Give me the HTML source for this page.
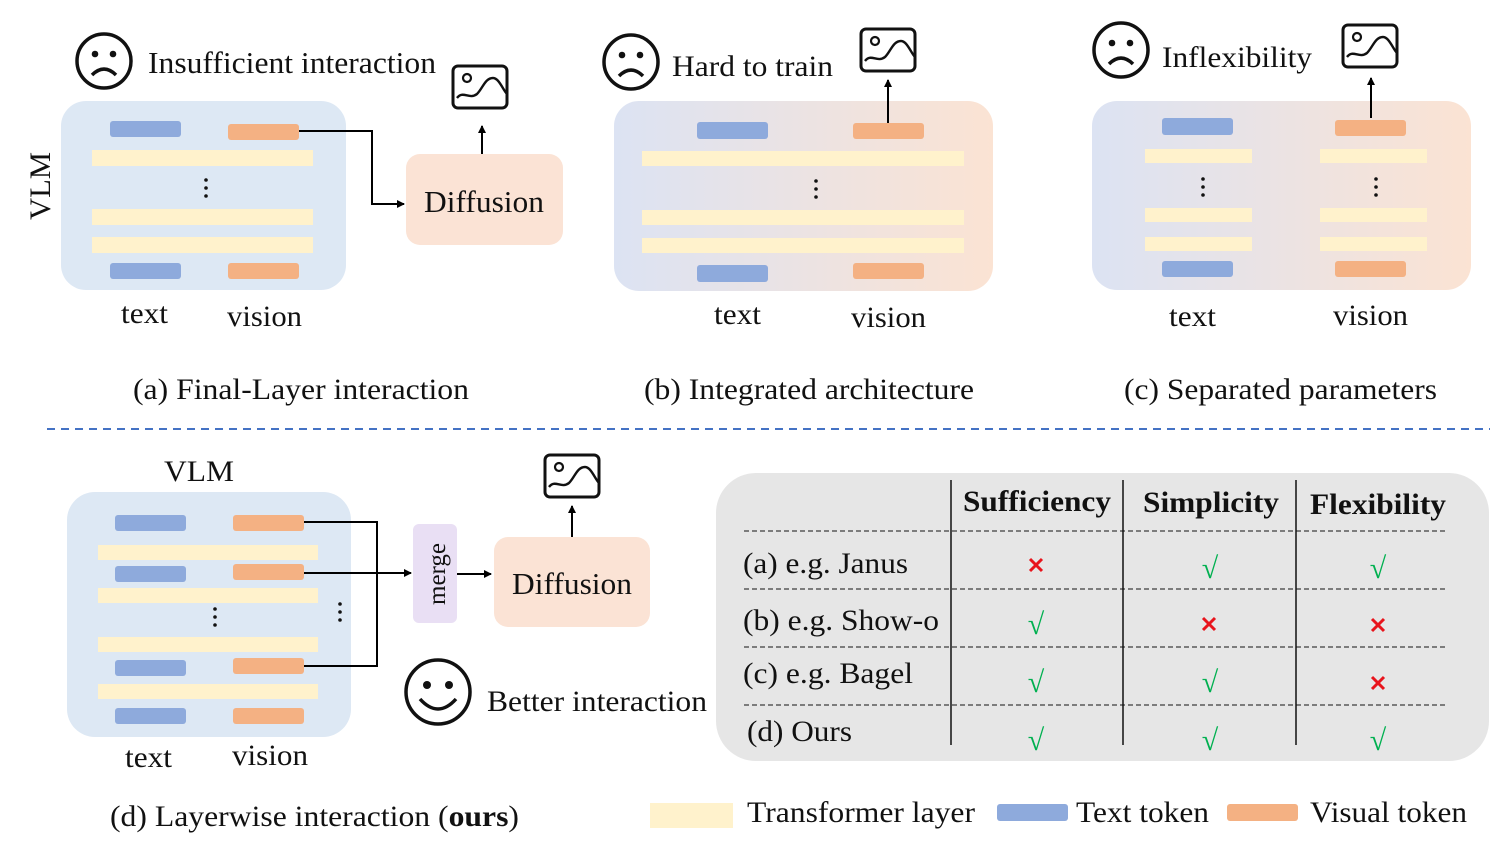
<!DOCTYPE html>
<html><head><meta charset="utf-8"><style>
html,body{margin:0;padding:0;background:#fff;}
svg{display:block;}
text{font-family:"Liberation Serif",serif;}
</style></head><body>
<svg width="1507" height="863" viewBox="0 0 1507 863" xmlns="http://www.w3.org/2000/svg" fill="#111">
<defs>
<linearGradient id="g1" x1="0" x2="1" y1="0" y2="0"><stop offset="0" stop-color="#dce3f3"/><stop offset="1" stop-color="#fbe3d3"/></linearGradient>
<marker id="ar" markerWidth="8" markerHeight="8" refX="7" refY="4" orient="auto" markerUnits="userSpaceOnUse"><path d="M0,0 L8,4 L0,8 z" fill="#000"/></marker>
<g id="img"><rect x="2" y="2" width="54" height="42" rx="5" fill="none" stroke="#111" stroke-width="3"/><circle cx="16" cy="14" r="4" fill="none" stroke="#111" stroke-width="2.2"/><path d="M6,34 C12,26 18,36 26,30 C32,24 34,14 42,14 C48,14 52,26 56,30" fill="none" stroke="#111" stroke-width="2.4"/></g>
<g id="sad"><circle cx="0" cy="0" r="27" fill="none" stroke="#111" stroke-width="3.5"/><circle cx="-9" cy="-7" r="3.3" fill="#111"/><circle cx="9" cy="-7" r="3.3" fill="#111"/><path d="M-12,14 Q0,2 12,14" fill="none" stroke="#111" stroke-width="3.5"/></g>
</defs>

<!-- Panel a -->
<use href="#sad" x="104" y="61"/>
<text x="148" y="73" font-size="31" textLength="288" lengthAdjust="spacingAndGlyphs">Insufficient interaction</text>
<text transform="translate(50,220) rotate(-90)" font-size="30" textLength="68" lengthAdjust="spacingAndGlyphs">VLM</text>
<rect x="61" y="101" width="285" height="189" rx="25" fill="#dde8f4"/>
<rect x="110" y="121" width="71" height="16" rx="3" fill="#8eaadc"/>
<rect x="228" y="124" width="71" height="16" rx="3" fill="#f4b183"/>
<rect x="92" y="150" width="221" height="16" fill="#fff2cc"/>
<rect x="92" y="209" width="221" height="16" fill="#fff2cc"/>
<rect x="92" y="237" width="221" height="16" fill="#fff2cc"/>
<circle cx="206" cy="180" r="1.8"/><circle cx="206" cy="188" r="1.8"/><circle cx="206" cy="196" r="1.8"/>
<rect x="110" y="263" width="71" height="16" rx="3" fill="#8eaadc"/>
<rect x="228" y="263" width="71" height="16" rx="3" fill="#f4b183"/>
<polyline points="299,131 372,131 372,204 404,204" fill="none" stroke="#000" stroke-width="2" marker-end="url(#ar)"/>
<rect x="406" y="154" width="157" height="91" rx="14" fill="#fbe3d5"/>
<text x="424" y="212" font-size="31" textLength="120" lengthAdjust="spacingAndGlyphs">Diffusion</text>
<line x1="482" y1="154" x2="482" y2="126" stroke="#000" stroke-width="2" marker-end="url(#ar)"/>
<use href="#img" x="451" y="64"/>
<text x="121" y="323" font-size="30" textLength="47" lengthAdjust="spacingAndGlyphs">text</text>
<text x="227" y="326" font-size="30" textLength="75" lengthAdjust="spacingAndGlyphs">vision</text>
<text x="133" y="399" font-size="30" textLength="336" lengthAdjust="spacingAndGlyphs">(a) Final-Layer interaction</text>

<!-- Panel b -->
<use href="#sad" x="631" y="62"/>
<text x="672" y="76" font-size="30" textLength="161" lengthAdjust="spacingAndGlyphs">Hard to train</text>
<rect x="614" y="101" width="379" height="190" rx="25" fill="url(#g1)"/>
<rect x="697" y="122" width="71" height="17" rx="3" fill="#8eaadc"/>
<rect x="853" y="123" width="71" height="16" rx="3" fill="#f4b183"/>
<rect x="642" y="151" width="322" height="15" fill="#fff2cc"/>
<rect x="642" y="210" width="322" height="15" fill="#fff2cc"/>
<rect x="642" y="238" width="322" height="15" fill="#fff2cc"/>
<circle cx="816" cy="181" r="1.8"/><circle cx="816" cy="189" r="1.8"/><circle cx="816" cy="197" r="1.8"/>
<rect x="697" y="265" width="71" height="17" rx="3" fill="#8eaadc"/>
<rect x="853" y="263" width="71" height="16" rx="3" fill="#f4b183"/>
<line x1="888" y1="123" x2="888" y2="80" stroke="#000" stroke-width="2" marker-end="url(#ar)"/>
<use href="#img" x="859" y="27"/>
<text x="714" y="324" font-size="30" textLength="47" lengthAdjust="spacingAndGlyphs">text</text>
<text x="851" y="327" font-size="30" textLength="75" lengthAdjust="spacingAndGlyphs">vision</text>
<text x="644" y="399" font-size="30" textLength="330" lengthAdjust="spacingAndGlyphs">(b) Integrated architecture</text>

<!-- Panel c -->
<use href="#sad" x="1121" y="50"/>
<text x="1162" y="67" font-size="30" textLength="150" lengthAdjust="spacingAndGlyphs">Inflexibility</text>
<rect x="1092" y="101" width="379" height="189" rx="25" fill="url(#g1)"/>
<rect x="1162" y="118" width="71" height="17" rx="3" fill="#8eaadc"/>
<rect x="1145" y="149" width="107" height="14" fill="#fff2cc"/>
<rect x="1145" y="208" width="107" height="14" fill="#fff2cc"/>
<rect x="1145" y="237" width="107" height="14" fill="#fff2cc"/>
<rect x="1162" y="261" width="71" height="16" rx="3" fill="#8eaadc"/>
<circle cx="1203" cy="179" r="1.8"/><circle cx="1203" cy="187" r="1.8"/><circle cx="1203" cy="195" r="1.8"/>
<rect x="1335" y="120" width="71" height="16" rx="3" fill="#f4b183"/>
<rect x="1320" y="149" width="107" height="14" fill="#fff2cc"/>
<rect x="1320" y="208" width="107" height="14" fill="#fff2cc"/>
<rect x="1320" y="237" width="107" height="14" fill="#fff2cc"/>
<rect x="1335" y="261" width="71" height="16" rx="3" fill="#f4b183"/>
<circle cx="1376" cy="179" r="1.8"/><circle cx="1376" cy="187" r="1.8"/><circle cx="1376" cy="195" r="1.8"/>
<line x1="1371" y1="118" x2="1371" y2="78" stroke="#000" stroke-width="2" marker-end="url(#ar)"/>
<use href="#img" x="1341" y="23"/>
<text x="1169" y="326" font-size="30" textLength="47" lengthAdjust="spacingAndGlyphs">text</text>
<text x="1333" y="325" font-size="30" textLength="75" lengthAdjust="spacingAndGlyphs">vision</text>
<text x="1124" y="399" font-size="30" textLength="313" lengthAdjust="spacingAndGlyphs">(c) Separated parameters</text>

<line x1="47" y1="429" x2="1490" y2="429" stroke="#4472c4" stroke-width="2" stroke-dasharray="8,6"/>

<!-- Panel d -->
<text x="164" y="481" font-size="30" textLength="70" lengthAdjust="spacingAndGlyphs">VLM</text>
<rect x="67" y="492" width="284" height="245" rx="28" fill="#dde8f4"/>
<rect x="115" y="515" width="71" height="16" rx="3" fill="#8eaadc"/>
<rect x="233" y="515" width="71" height="16" rx="3" fill="#f4b183"/>
<rect x="98" y="545" width="220" height="15" fill="#fff2cc"/>
<rect x="115" y="566" width="71" height="16" rx="3" fill="#8eaadc"/>
<rect x="233" y="564" width="71" height="16" rx="3" fill="#f4b183"/>
<rect x="98" y="588" width="220" height="15" fill="#fff2cc"/>
<circle cx="215" cy="609" r="1.8"/><circle cx="215" cy="617" r="1.8"/><circle cx="215" cy="625" r="1.8"/>
<circle cx="340" cy="604" r="1.8"/><circle cx="340" cy="612" r="1.8"/><circle cx="340" cy="620" r="1.8"/>
<rect x="98" y="637" width="220" height="15" fill="#fff2cc"/>
<rect x="115" y="660" width="71" height="16" rx="3" fill="#8eaadc"/>
<rect x="233" y="658" width="71" height="16" rx="3" fill="#f4b183"/>
<rect x="98" y="684" width="220" height="15" fill="#fff2cc"/>
<rect x="115" y="708" width="71" height="16" rx="3" fill="#8eaadc"/>
<rect x="233" y="708" width="71" height="16" rx="3" fill="#f4b183"/>
<polyline points="304,522 377,522 377,666 304,666" fill="none" stroke="#000" stroke-width="2"/>
<line x1="304" y1="573" x2="411" y2="573" stroke="#000" stroke-width="2" marker-end="url(#ar)"/>
<rect x="413" y="524" width="44" height="99" rx="6" fill="#e9dff4"/>
<text transform="translate(445,574) rotate(-90)" font-size="25" text-anchor="middle">merge</text>
<line x1="457" y1="574" x2="491" y2="574" stroke="#000" stroke-width="2" marker-end="url(#ar)"/>
<rect x="494" y="537" width="156" height="90" rx="14" fill="#fbe3d5"/>
<text x="512" y="594" font-size="31" textLength="120" lengthAdjust="spacingAndGlyphs">Diffusion</text>
<line x1="572" y1="537" x2="572" y2="506" stroke="#000" stroke-width="2" marker-end="url(#ar)"/>
<use href="#img" x="543" y="453"/>
<circle cx="438" cy="692" r="32" fill="none" stroke="#111" stroke-width="3.5"/>
<circle cx="427" cy="685" r="4"/><circle cx="449" cy="685" r="4"/>
<path d="M420,699 Q438,719 456,699" fill="none" stroke="#111" stroke-width="3.5"/>
<text x="487" y="711" font-size="30" textLength="220" lengthAdjust="spacingAndGlyphs">Better interaction</text>
<text x="125" y="767" font-size="30" textLength="47" lengthAdjust="spacingAndGlyphs">text</text>
<text x="232" y="765" font-size="30" textLength="76" lengthAdjust="spacingAndGlyphs">vision</text>
<text x="110" y="826" font-size="30" textLength="409" lengthAdjust="spacingAndGlyphs">(d) Layerwise interaction (<tspan font-weight="bold">ours</tspan>)</text>

<!-- Table -->
<rect x="716" y="473" width="773" height="288" rx="40" fill="#e6e6e6"/>
<g stroke="#111" stroke-width="1.5">
<line x1="951" y1="480" x2="951" y2="745"/>
<line x1="1123" y1="480" x2="1123" y2="745"/>
<line x1="1296" y1="480" x2="1296" y2="745"/>
</g>
<g stroke="#111" stroke-width="1" stroke-dasharray="5,3">
<line x1="744" y1="531" x2="1448" y2="531"/>
<line x1="744" y1="589" x2="1448" y2="589"/>
<line x1="744" y1="647" x2="1448" y2="647"/>
<line x1="744" y1="705" x2="1448" y2="705"/>
</g>
<g font-size="30" font-weight="bold">
<text x="963" y="511" textLength="148" lengthAdjust="spacingAndGlyphs">Sufficiency</text>
<text x="1143" y="512" textLength="136" lengthAdjust="spacingAndGlyphs">Simplicity</text>
<text x="1310" y="514" textLength="136" lengthAdjust="spacingAndGlyphs">Flexibility</text>
</g>
<g font-size="30">
<text x="743" y="573" textLength="165" lengthAdjust="spacingAndGlyphs">(a) e.g. Janus</text>
<text x="743" y="630" textLength="196" lengthAdjust="spacingAndGlyphs">(b) e.g. Show-o</text>
<text x="743" y="683" textLength="170" lengthAdjust="spacingAndGlyphs">(c) e.g. Bagel</text>
<text x="747" y="741" textLength="105" lengthAdjust="spacingAndGlyphs">(d) Ours</text>
</g>
<g stroke="#e8141c" stroke-width="3">
<path d="M1030,559 L1042,571 M1042,559 L1030,571"/>
<path d="M1203,618 L1215,630 M1215,618 L1203,630"/>
<path d="M1372,619 L1384,631 M1384,619 L1372,631"/>
<path d="M1372,677 L1384,689 M1384,677 L1372,689"/>
</g>
<g font-size="30" text-anchor="middle" fill="#00b050">
<text x="1210" y="578">√</text>
<text x="1378" y="578">√</text>
<text x="1036" y="634">√</text>
<text x="1036" y="692">√</text>
<text x="1210" y="692">√</text>
<text x="1036" y="750">√</text>
<text x="1210" y="750">√</text>
<text x="1378" y="750">√</text>
</g>

<!-- Legend -->
<rect x="650" y="803" width="83" height="25" fill="#fff2cc"/>
<text x="747" y="822" font-size="30" textLength="228" lengthAdjust="spacingAndGlyphs">Transformer layer</text>
<rect x="997" y="804" width="71" height="17" rx="3" fill="#8eaadc"/>
<text x="1076" y="822" font-size="30" textLength="133" lengthAdjust="spacingAndGlyphs">Text token</text>
<rect x="1227" y="804" width="71" height="17" rx="3" fill="#f4b183"/>
<text x="1310" y="822" font-size="30" textLength="157" lengthAdjust="spacingAndGlyphs">Visual token</text>
</svg>
</body></html>
